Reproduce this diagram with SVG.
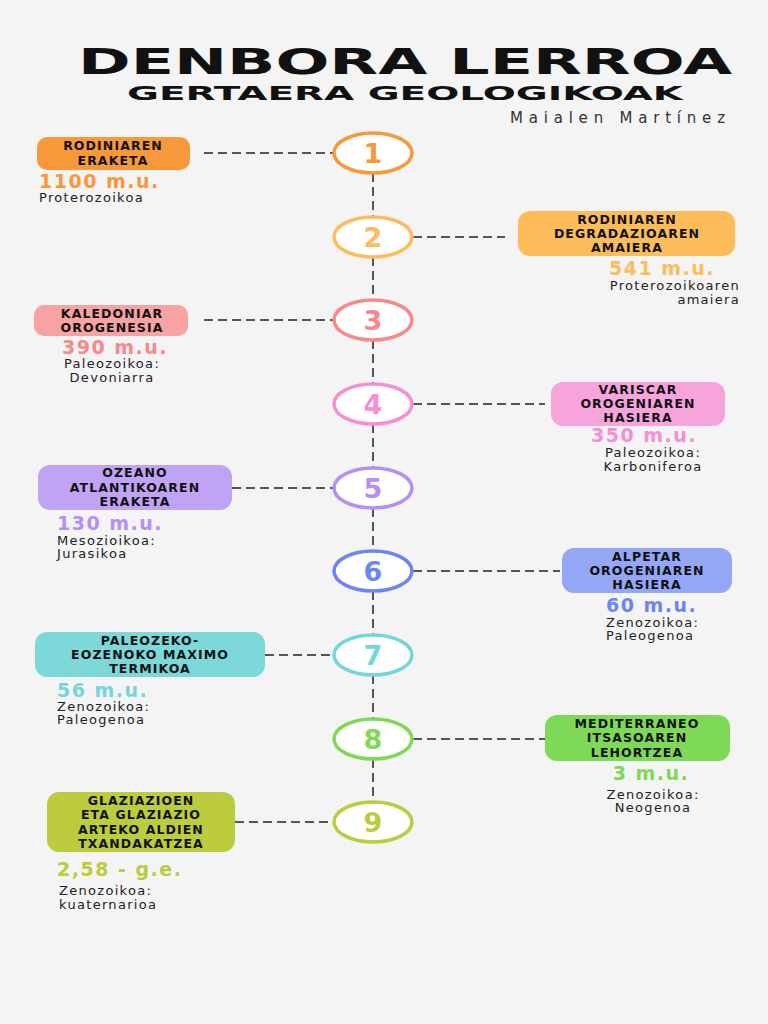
<svg xmlns="http://www.w3.org/2000/svg" width="768" height="1024" viewBox="0 0 768 1024">
<style>
.bg{fill:#f4f4f4}
.c{fill:#fff;stroke-width:3.5}
.n{font-family:"DejaVu Sans",sans-serif;font-weight:bold;font-size:27px;text-anchor:middle;dominant-baseline:central}
.bt{font-family:"DejaVu Sans",sans-serif;font-weight:bold;font-size:12.5px;letter-spacing:1.1px;text-anchor:middle;dominant-baseline:central;fill:#111}
.v{font-family:"DejaVu Sans",sans-serif;font-weight:bold;font-size:19px;letter-spacing:1.5px;dominant-baseline:central}
.s{font-family:"DejaVu Sans",sans-serif;font-size:13px;letter-spacing:1.3px;dominant-baseline:central;fill:#222}
.d{stroke:#555;stroke-width:2;stroke-dasharray:9 5;fill:none}
</style>
<rect class="bg" width="768" height="1024"/>
<g id="title">
<text x="78" y="62" textLength="654" lengthAdjust="spacingAndGlyphs" style="font-family:'DejaVu Sans',sans-serif;font-weight:bold;font-size:35px;dominant-baseline:central;fill:#111">DENBORA LERROA</text>
<text x="127" y="93" textLength="556" lengthAdjust="spacingAndGlyphs" style="font-family:'DejaVu Sans',sans-serif;font-weight:bold;font-size:20px;dominant-baseline:central;fill:#111">GERTAERA GEOLOGIKOAK</text>
<text x="510" y="118" textLength="215" style="font-family:'DejaVu Sans',sans-serif;font-size:15px;dominant-baseline:central;fill:#333">Maialen Martínez</text>
</g>
<g id="connectors">
<line class="d" x1="373" y1="173" x2="373" y2="217"/>
<line class="d" x1="373" y1="257" x2="373" y2="300"/>
<line class="d" x1="373" y1="340" x2="373" y2="384"/>
<line class="d" x1="373" y1="424" x2="373" y2="468"/>
<line class="d" x1="373" y1="508" x2="373" y2="551"/>
<line class="d" x1="373" y1="591" x2="373" y2="635"/>
<line class="d" x1="373" y1="675" x2="373" y2="719"/>
<line class="d" x1="373" y1="759" x2="373" y2="802"/>
<line class="d" x1="204" y1="153" x2="333" y2="153"/>
<line class="d" x1="413" y1="237" x2="505" y2="237"/>
<line class="d" x1="204" y1="320" x2="333" y2="320"/>
<line class="d" x1="413" y1="404" x2="545" y2="404"/>
<line class="d" x1="232" y1="488" x2="333" y2="488"/>
<line class="d" x1="413" y1="571" x2="560" y2="571"/>
<line class="d" x1="265" y1="655" x2="333" y2="655"/>
<line class="d" x1="413" y1="739" x2="545" y2="739"/>
<line class="d" x1="235" y1="822" x2="333" y2="822"/>
</g>
<g id="n1">
<ellipse class="c" cx="373" cy="153" rx="39" ry="20" stroke="#f7993a"/><text class="n" x="373" y="153" fill="#f7993a">1</text>
<rect x="37" y="137" width="153" height="33" rx="10" fill="#f7993a"/>
<text class="bt" x="113" y="145">RODINIAREN</text><text class="bt" x="113" y="160">ERAKETA</text>
<text class="v" x="39" y="181" fill="#f7993a">1100 m.u.</text>
<text class="s" x="39" y="197">Proterozoikoa</text>
</g>
<g id="n2">
<ellipse class="c" cx="373" cy="237" rx="39" ry="20" stroke="#fdbc5a"/><text class="n" x="373" y="237" fill="#fdbc5a">2</text>
<rect x="518" y="211" width="217" height="45" rx="12" fill="#fdbc5a"/>
<text class="bt" x="627" y="219">RODINIAREN</text><text class="bt" x="627" y="233">DEGRADAZIOAREN</text><text class="bt" x="627" y="247">AMAIERA</text>
<text class="v" x="662" y="268" fill="#fdbc5a" text-anchor="middle">541 m.u.</text>
<text class="s" x="740" y="285" text-anchor="end">Proterozoikoaren</text>
<text class="s" x="740" y="299" text-anchor="end">amaiera</text>
</g>
<g id="n3">
<ellipse class="c" cx="373" cy="320" rx="39" ry="20" stroke="#f7898a"/><text class="n" x="373" y="320" fill="#f7898a">3</text>
<rect x="34" y="305" width="154" height="31" rx="10" fill="#f8a3a3"/>
<text class="bt" x="112" y="313">KALEDONIAR</text><text class="bt" x="112" y="327">OROGENESIA</text>
<text class="v" x="115" y="347" fill="#f7898a" text-anchor="middle">390 m.u.</text>
<text class="s" x="112" y="363" text-anchor="middle">Paleozoikoa:</text>
<text class="s" x="112" y="377" text-anchor="middle">Devoniarra</text>
</g>
<g id="n4">
<ellipse class="c" cx="373" cy="404" rx="39" ry="20" stroke="#f78ed4"/><text class="n" x="373" y="404" fill="#f78ed4">4</text>
<rect x="551" y="382" width="174" height="44" rx="12" fill="#f8a4dc"/>
<text class="bt" x="638" y="389">VARISCAR</text><text class="bt" x="638" y="403">OROGENIAREN</text><text class="bt" x="638" y="417">HASIERA</text>
<text class="v" x="644" y="435" fill="#f78ed4" text-anchor="middle">350 m.u.</text>
<text class="s" x="653" y="452" text-anchor="middle">Paleozoikoa:</text>
<text class="s" x="653" y="466" text-anchor="middle">Karboniferoa</text>
</g>
<g id="n5">
<ellipse class="c" cx="373" cy="488" rx="39" ry="20" stroke="#b58ff5"/><text class="n" x="373" y="488" fill="#b58ff5">5</text>
<rect x="38" y="465" width="194" height="45" rx="12" fill="#c1a3f6"/>
<text class="bt" x="135" y="472">OZEANO</text><text class="bt" x="135" y="487">ATLANTIKOAREN</text><text class="bt" x="135" y="501">ERAKETA</text>
<text class="v" x="57" y="523" fill="#b58ff5">130 m.u.</text>
<text class="s" x="57" y="540">Mesozioikoa:</text>
<text class="s" x="57" y="553">Jurasikoa</text>
</g>
<g id="n6">
<ellipse class="c" cx="373" cy="571" rx="39" ry="20" stroke="#6b86f2"/><text class="n" x="373" y="571" fill="#6b86f2">6</text>
<rect x="562" y="548" width="170" height="45" rx="12" fill="#93a7f5"/>
<text class="bt" x="647" y="556">ALPETAR</text><text class="bt" x="647" y="570">OROGENIAREN</text><text class="bt" x="647" y="584">HASIERA</text>
<text class="v" x="606" y="605" fill="#6b86f2">60 m.u.</text>
<text class="s" x="606" y="622">Zenozoikoa:</text>
<text class="s" x="606" y="635">Paleogenoa</text>
</g>
<g id="n7">
<ellipse class="c" cx="373" cy="655" rx="39" ry="20" stroke="#74d6d8"/><text class="n" x="373" y="655" fill="#74d6d8">7</text>
<rect x="35" y="632" width="230" height="45" rx="12" fill="#7dd8da"/>
<text class="bt" x="150" y="640">PALEOZEKO-</text><text class="bt" x="150" y="654">EOZENOKO MAXIMO</text><text class="bt" x="150" y="668">TERMIKOA</text>
<text class="v" x="57" y="690" fill="#74d6d8">56 m.u.</text>
<text class="s" x="57" y="706">Zenozoikoa:</text>
<text class="s" x="57" y="719">Paleogenoa</text>
</g>
<g id="n8">
<ellipse class="c" cx="373" cy="739" rx="39" ry="20" stroke="#7ed957"/><text class="n" x="373" y="739" fill="#7ed957">8</text>
<rect x="545" y="715" width="185" height="46" rx="12" fill="#7ed957"/>
<text class="bt" x="637" y="723">MEDITERRANEO</text><text class="bt" x="637" y="737">ITSASOAREN</text><text class="bt" x="637" y="752">LEHORTZEA</text>
<text class="v" x="651" y="773" fill="#7ed957" text-anchor="middle">3 m.u.</text>
<text class="s" x="653" y="794" text-anchor="middle">Zenozoikoa:</text>
<text class="s" x="653" y="807" text-anchor="middle">Neogenoa</text>
</g>
<g id="n9">
<ellipse class="c" cx="373" cy="822" rx="39" ry="20" stroke="#bdcb3e"/><text class="n" x="373" y="822" fill="#bdcb3e">9</text>
<rect x="47" y="792" width="188" height="60" rx="12" fill="#bdcb3e"/>
<text class="bt" x="141" y="800">GLAZIAZIOEN</text><text class="bt" x="141" y="814">ETA GLAZIAZIO</text><text class="bt" x="141" y="829">ARTEKO ALDIEN</text><text class="bt" x="141" y="843">TXANDAKATZEA</text>
<text class="v" x="57" y="869" fill="#bdcb3e">2,58 - g.e.</text>
<text class="s" x="59" y="890">Zenozoikoa:</text>
<text class="s" x="59" y="904">kuaternarioa</text>
</g>
</svg>
